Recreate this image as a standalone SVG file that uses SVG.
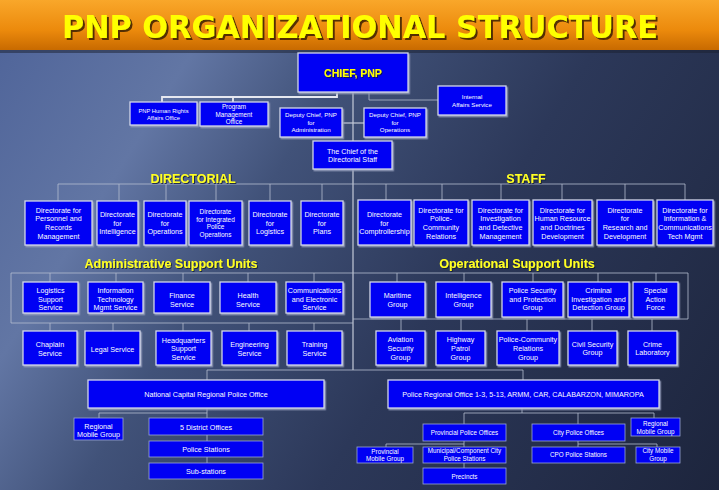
<svg xmlns="http://www.w3.org/2000/svg" width="719" height="490" viewBox="0 0 719 490">
<defs>
<linearGradient id="bg" gradientUnits="userSpaceOnUse" x1="0" y1="40" x2="719" y2="490">
<stop offset="0" stop-color="#50659a"/>
<stop offset="0.2" stop-color="#6276a4"/>
<stop offset="0.36" stop-color="#415279"/>
<stop offset="0.6" stop-color="#2c3859"/>
<stop offset="1" stop-color="#1d253d"/>
</linearGradient>
<linearGradient id="bar" x1="0" y1="0" x2="0" y2="1">
<stop offset="0" stop-color="#f9a72a"/>
<stop offset="0.6" stop-color="#ec8a0c"/>
<stop offset="1" stop-color="#c86a00"/>
</linearGradient>
<filter id="ds" x="-10%" y="-10%" width="130%" height="140%">
<feDropShadow dx="1.3" dy="1.5" stdDeviation="0.5" flood-color="#9aa2c0" flood-opacity="0.9"/>
</filter>
<filter id="ts" x="-5%" y="-20%" width="110%" height="150%">
<feDropShadow dx="2" dy="2" stdDeviation="0.6" flood-color="#3a2000" flood-opacity="0.85"/>
</filter>
<filter id="ys" x="-5%" y="-20%" width="110%" height="150%">
<feDropShadow dx="1" dy="1" stdDeviation="0.4" flood-color="#101830" flood-opacity="0.8"/>
</filter>
<style>
.b{fill:#0000f4;stroke:#d2d6ea;stroke-width:1.3;filter:url(#ds)}
.s{fill:#0000f4;stroke:#9aa6d6;stroke-width:0.8}
.t{font-family:"Liberation Sans",Arial,sans-serif;fill:#ffffff;text-anchor:middle;font-size:7.2px}
.t6{font-size:6.3px}
.t58{font-size:5.8px}
.t62{font-size:6.2px}
.y{font-family:"Liberation Sans",Arial,sans-serif;font-weight:bold;fill:#ffff22;text-anchor:middle;font-size:12.5px;filter:url(#ys)}
.c{fill:none;stroke:#b4bccf;stroke-width:0.8}
.cw{fill:none;stroke:#e6e8f0;stroke-width:1.8}
.cm{fill:none;stroke:#c4cad8;stroke-width:1.2}
</style>
</defs>
<rect x="0" y="0" width="719" height="490" fill="url(#bg)"/>
<g id="titlebar">
<rect x="0" y="0" width="719" height="50" fill="url(#bar)"/>
<rect x="0" y="50" width="719" height="3" fill="#1a2030" opacity="0.5"/>
<text x="360" y="38" font-family="'DejaVu Sans',sans-serif" font-weight="bold" font-size="32" fill="#ffff00" text-anchor="middle" textLength="596" lengthAdjust="spacingAndGlyphs" filter="url(#ts)">PNP ORGANIZATIONAL STRUCTURE</text>
</g>
<g id="connectors">
<path class="cw" d="M337 92V97H162V102M233 97V102"/>
<path class="c" d="M369 92V100H438"/>
<path class="cm" d="M353 92V370"/>
<path class="cm" d="M342 123H364"/>
<path class="c" d="M58 184H685M58 184V201M119 184V201M166 184V201M216 184V201M270 184V201M322 184V201M386 184V200M442 184V200M501 184V200M562 184V200M625 184V200M685 184V200"/>
<path class="c" d="M353 273H11V323H353M50 273V282M116 273V282M183 273V282M248 273V282M314 273V282M50 323V331M113 323V331M183 323V331M249 323V331M314 323V331"/>
<path class="c" d="M353 273H688V319H353M397 273V282M464 273V282M533 273V282M598 273V282M656 273V282M401 319V331M461 319V331M527 319V331M592 319V331M652 319V331"/>
<path class="c" d="M207 380V370H523V380"/>
<path class="c" d="M207 408V418M207 435V441M207 457V463M99 418V413H207"/>
<path class="c" d="M522 408V413M464 424V413H654V418M578 413V424"/>
<path class="c" d="M464 441V447M386 447V444H464M464 463V468M578 441V447M578 444H657V447"/>
</g>
<g id="chief">
<rect class="b" x="298" y="53" width="110" height="39"/>
<text x="353" y="77" font-family="'Liberation Sans',Arial,sans-serif" font-weight="bold" font-size="10.5" fill="#ffff00" text-anchor="middle" filter="url(#ys)">CHIEF, PNP</text>
</g>
<g id="human-rights">
<rect class="b" x="130" y="102" width="67" height="23"/>
<text class="t t58"><tspan x="163.5" y="112.8">PNP Human Rights</tspan><tspan x="163.5" y="120.4">Affairs Office</tspan></text>
</g>
<g id="program-mgmt">
<rect class="b" x="200" y="102" width="68" height="24"/>
<text class="t t6"><tspan x="234" y="109.1">Program</tspan><tspan x="234" y="116.8">Management</tspan><tspan x="234" y="124.1">Office</tspan></text>
</g>
<g id="internal-affairs">
<rect class="b" x="438" y="86" width="68" height="29"/>
<text class="t t62"><tspan x="472" y="99.2">Internal</tspan><tspan x="472" y="106.9">Affairs Service</tspan></text>
</g>
<g id="deputy-admin">
<rect class="b" x="280" y="108" width="62" height="29"/>
<text class="t t62"><tspan x="311" y="117.2">Deputy Chief, PNP</tspan><tspan x="311" y="124.9">for</tspan><tspan x="311" y="132.2">Administration</tspan></text>
</g>
<g id="deputy-ops">
<rect class="b" x="364" y="108" width="62" height="29"/>
<text class="t t62"><tspan x="395" y="117.2">Deputy Chief, PNP</tspan><tspan x="395" y="124.9">for</tspan><tspan x="395" y="132.2">Operations</tspan></text>
</g>
<g id="chief-directorial-staff">
<rect class="b" x="313" y="141" width="79" height="28"/>
<text class="t"><tspan x="352.5" y="153.6">The Chief of the</tspan><tspan x="352.5" y="162.3">Directorial Staff</tspan></text>
</g>
<g id="labels">
<text class="y" x="193" y="183">DIRECTORIAL</text>
<text class="y" x="526" y="183">STAFF</text>
<text class="y" x="171" y="268">Administrative Support Units</text>
<text class="y" x="517" y="268">Operational Support Units</text>
</g>
<g id="dir-personnel">
<rect class="b" x="25" y="201" width="67" height="44"/>
<text class="t"><tspan x="58.5" y="212.6">Directorate for</tspan><tspan x="58.5" y="221.3">Personnel and</tspan><tspan x="58.5" y="230">Records</tspan><tspan x="58.5" y="238.7">Management</tspan></text>
</g>
<g id="dir-intelligence">
<rect class="b" x="97" y="201" width="41" height="44"/>
<text class="t"><tspan x="117.5" y="216.9">Directorate</tspan><tspan x="117.5" y="225.6">for</tspan><tspan x="117.5" y="234.3">Intelligence</tspan></text>
</g>
<g id="dir-operations">
<rect class="b" x="144" y="201" width="42" height="44"/>
<text class="t"><tspan x="165" y="216.9">Directorate</tspan><tspan x="165" y="225.6">for</tspan><tspan x="165" y="234.3">Operations</tspan></text>
</g>
<g id="dir-integrated">
<rect class="b" x="189" y="201" width="53" height="44"/>
<text class="t" style="font-size:6.5px"><tspan x="215.5" y="214.3">Directorate</tspan><tspan x="215.5" y="221.8">for Integrated</tspan><tspan x="215.5" y="229.3">Police</tspan><tspan x="215.5" y="236.8">Operations</tspan></text>
</g>
<g id="dir-logistics">
<rect class="b" x="249" y="201" width="42" height="44"/>
<text class="t"><tspan x="270" y="216.9">Directorate</tspan><tspan x="270" y="225.6">for</tspan><tspan x="270" y="234.3">Logistics</tspan></text>
</g>
<g id="dir-plans">
<rect class="b" x="301" y="201" width="42" height="44"/>
<text class="t"><tspan x="322" y="216.9">Directorate</tspan><tspan x="322" y="225.6">for</tspan><tspan x="322" y="234.3">Plans</tspan></text>
</g>
<g id="dir-comptrollership">
<rect class="b" x="358" y="200" width="53" height="45"/>
<text class="t"><tspan x="384.5" y="216.9">Directorate</tspan><tspan x="384.5" y="225.6">for</tspan><tspan x="384.5" y="234.3">Comptrollership</tspan></text>
</g>
<g id="dir-pcr">
<rect class="b" x="414" y="200" width="54" height="45"/>
<text class="t"><tspan x="441" y="212.6">Directorate for</tspan><tspan x="441" y="221.3">Police-</tspan><tspan x="441" y="230">Community</tspan><tspan x="441" y="238.7">Relations</tspan></text>
</g>
<g id="dir-idm">
<rect class="b" x="472" y="200" width="57" height="45"/>
<text class="t"><tspan x="500.5" y="212.6">Directorate for</tspan><tspan x="500.5" y="221.3">Investigation</tspan><tspan x="500.5" y="230">and Detective</tspan><tspan x="500.5" y="238.7">Management</tspan></text>
</g>
<g id="dir-hrdd">
<rect class="b" x="533" y="200" width="59" height="45"/>
<text class="t"><tspan x="562.5" y="212.6">Directorate for</tspan><tspan x="562.5" y="221.3">Human Resource</tspan><tspan x="562.5" y="230">and Doctrines</tspan><tspan x="562.5" y="238.7">Development</tspan></text>
</g>
<g id="dir-rd">
<rect class="b" x="597" y="200" width="56" height="45"/>
<text class="t"><tspan x="625" y="212.6">Directorate</tspan><tspan x="625" y="221.3">for</tspan><tspan x="625" y="230">Research and</tspan><tspan x="625" y="238.7">Development</tspan></text>
</g>
<g id="dir-ictm">
<rect class="b" x="657" y="200" width="56" height="45"/>
<text class="t"><tspan x="685" y="212.6">Directorate for</tspan><tspan x="685" y="221.3">Information &amp;</tspan><tspan x="685" y="230">Communications</tspan><tspan x="685" y="238.7">Tech Mgmt</tspan></text>
</g>
<g id="adm-logistics">
<rect class="b" x="23" y="282" width="55" height="31"/>
<text class="t"><tspan x="50.5" y="293.3">Logistics</tspan><tspan x="50.5" y="301.8">Support</tspan><tspan x="50.5" y="310.3">Service</tspan></text>
</g>
<g id="adm-itms">
<rect class="b" x="88" y="282" width="55" height="31"/>
<text class="t"><tspan x="115.5" y="293.3">Information</tspan><tspan x="115.5" y="301.8">Technology</tspan><tspan x="115.5" y="310.3">Mgmt Service</tspan></text>
</g>
<g id="adm-finance">
<rect class="b" x="154" y="282" width="56" height="31"/>
<text class="t"><tspan x="182" y="297.6">Finance</tspan><tspan x="182" y="306.6">Service</tspan></text>
</g>
<g id="adm-health">
<rect class="b" x="220" y="282" width="56" height="31"/>
<text class="t"><tspan x="248" y="297.6">Health</tspan><tspan x="248" y="306.6">Service</tspan></text>
</g>
<g id="adm-comms">
<rect class="b" x="286" y="282" width="57" height="31"/>
<text class="t"><tspan x="314.5" y="293.3">Communications</tspan><tspan x="314.5" y="301.8">and Electronic</tspan><tspan x="314.5" y="310.3">Service</tspan></text>
</g>
<g id="adm-chaplain">
<rect class="b" x="23" y="331" width="54" height="34"/>
<text class="t"><tspan x="50" y="346.6">Chaplain</tspan><tspan x="50" y="355.6">Service</tspan></text>
</g>
<g id="adm-legal">
<rect class="b" x="85" y="331" width="55" height="34"/>
<text class="t" x="112.5" y="351.6">Legal Service</text>
</g>
<g id="adm-hq">
<rect class="b" x="156" y="331" width="55" height="34"/>
<text class="t"><tspan x="183.5" y="342.6">Headquarters</tspan><tspan x="183.5" y="351.3">Support</tspan><tspan x="183.5" y="360">Service</tspan></text>
</g>
<g id="adm-engineering">
<rect class="b" x="222" y="331" width="55" height="34"/>
<text class="t"><tspan x="249.5" y="346.6">Engineering</tspan><tspan x="249.5" y="355.6">Service</tspan></text>
</g>
<g id="adm-training">
<rect class="b" x="287" y="331" width="55" height="34"/>
<text class="t"><tspan x="314.5" y="346.6">Training</tspan><tspan x="314.5" y="355.6">Service</tspan></text>
</g>
<g id="ops-maritime">
<rect class="b" x="370" y="282" width="55" height="35"/>
<text class="t"><tspan x="397.5" y="297.6">Maritime</tspan><tspan x="397.5" y="306.6">Group</tspan></text>
</g>
<g id="ops-intelligence">
<rect class="b" x="436" y="282" width="55" height="35"/>
<text class="t"><tspan x="463.5" y="297.6">Intelligence</tspan><tspan x="463.5" y="306.6">Group</tspan></text>
</g>
<g id="ops-psp">
<rect class="b" x="502" y="282" width="61" height="35"/>
<text class="t"><tspan x="532.5" y="293.3">Police Security</tspan><tspan x="532.5" y="301.8">and Protection</tspan><tspan x="532.5" y="310.3">Group</tspan></text>
</g>
<g id="ops-cidg">
<rect class="b" x="568" y="282" width="61" height="35"/>
<text class="t"><tspan x="598.5" y="293.3">Criminal</tspan><tspan x="598.5" y="301.8">Investigation and</tspan><tspan x="598.5" y="310.3">Detection Group</tspan></text>
</g>
<g id="ops-saf">
<rect class="b" x="633" y="282" width="45" height="35"/>
<text class="t"><tspan x="655.5" y="293.3">Special</tspan><tspan x="655.5" y="301.8">Action</tspan><tspan x="655.5" y="310.3">Force</tspan></text>
</g>
<g id="ops-aviation">
<rect class="b" x="376" y="331" width="49" height="34"/>
<text class="t"><tspan x="400.5" y="342">Aviation</tspan><tspan x="400.5" y="350.8">Security</tspan><tspan x="400.5" y="359.6">Group</tspan></text>
</g>
<g id="ops-highway">
<rect class="b" x="436" y="331" width="49" height="34"/>
<text class="t"><tspan x="460.5" y="342">Highway</tspan><tspan x="460.5" y="350.8">Patrol</tspan><tspan x="460.5" y="359.6">Group</tspan></text>
</g>
<g id="ops-pcr">
<rect class="b" x="497" y="331" width="62" height="34"/>
<text class="t"><tspan x="528" y="342">Police-Community</tspan><tspan x="528" y="350.8">Relations</tspan><tspan x="528" y="359.6">Group</tspan></text>
</g>
<g id="ops-civil">
<rect class="b" x="568" y="331" width="49" height="34"/>
<text class="t"><tspan x="592.5" y="346.6">Civil Security</tspan><tspan x="592.5" y="355.3">Group</tspan></text>
</g>
<g id="ops-crimelab">
<rect class="b" x="628" y="331" width="49" height="34"/>
<text class="t"><tspan x="652.5" y="346.6">Crime</tspan><tspan x="652.5" y="355.3">Laboratory</tspan></text>
</g>
<g id="ncrpo">
<rect class="b" x="88" y="380" width="236" height="28"/>
<text class="t" x="206" y="396.6">National Capital Regional Police Office</text>
</g>
<g id="ncr-rmg">
<rect class="s" x="74" y="418" width="49" height="22"/>
<text class="t"><tspan x="98.5" y="428.6">Regional</tspan><tspan x="98.5" y="436.9">Mobile Group</tspan></text>
</g>
<g id="ncr-district">
<rect class="s" x="149" y="418" width="114" height="17"/>
<text class="t" x="206" y="429.6">5 District Offices</text>
</g>
<g id="ncr-stations">
<rect class="s" x="149" y="441" width="114" height="16"/>
<text class="t" x="206" y="451.6">Police Stations</text>
</g>
<g id="ncr-substations">
<rect class="s" x="149" y="463" width="114" height="16"/>
<text class="t" x="206" y="473.6">Sub-stations</text>
</g>
<g id="pro">
<rect class="b" x="388" y="380" width="271" height="28"/>
<text class="t" x="523" y="396.9">Police Regional Office 1-3, 5-13, ARMM, CAR, CALABARZON, MIMAROPA</text>
</g>
<g id="pro-provincial">
<rect class="s" x="423" y="424" width="83" height="17"/>
<text class="t t6" x="464.5" y="434.9">Provincial Police Offices</text>
</g>
<g id="pro-city">
<rect class="s" x="532" y="424" width="93" height="17"/>
<text class="t t6" x="578.5" y="434.9">City Police Offices</text>
</g>
<g id="pro-rmg">
<rect class="s" x="631" y="418" width="49" height="18"/>
<text class="t t6"><tspan x="655.5" y="425.5">Regional</tspan><tspan x="655.5" y="433.5">Mobile Group</tspan></text>
</g>
<g id="pro-pmg">
<rect class="s" x="357" y="447" width="56" height="16"/>
<text class="t t6"><tspan x="385" y="453.5">Provincial</tspan><tspan x="385" y="461.2">Mobile Group</tspan></text>
</g>
<g id="pro-municipal">
<rect class="s" x="423" y="447" width="83" height="16"/>
<text class="t t6"><tspan x="464.5" y="453.2">Municipal/Component City</tspan><tspan x="464.5" y="460.9">Police Stations</tspan></text>
</g>
<g id="pro-cpo">
<rect class="s" x="532" y="447" width="93" height="16"/>
<text class="t t6" x="578.5" y="456.9">CPO Police Stations</text>
</g>
<g id="pro-cmg">
<rect class="s" x="636" y="447" width="44" height="16"/>
<text class="t t6"><tspan x="658" y="453.2">City Mobile</tspan><tspan x="658" y="460.9">Group</tspan></text>
</g>
<g id="pro-precincts">
<rect class="s" x="423" y="468" width="83" height="16"/>
<text class="t t6" x="464.5" y="478.5">Precincts</text>
</g>
</svg>
